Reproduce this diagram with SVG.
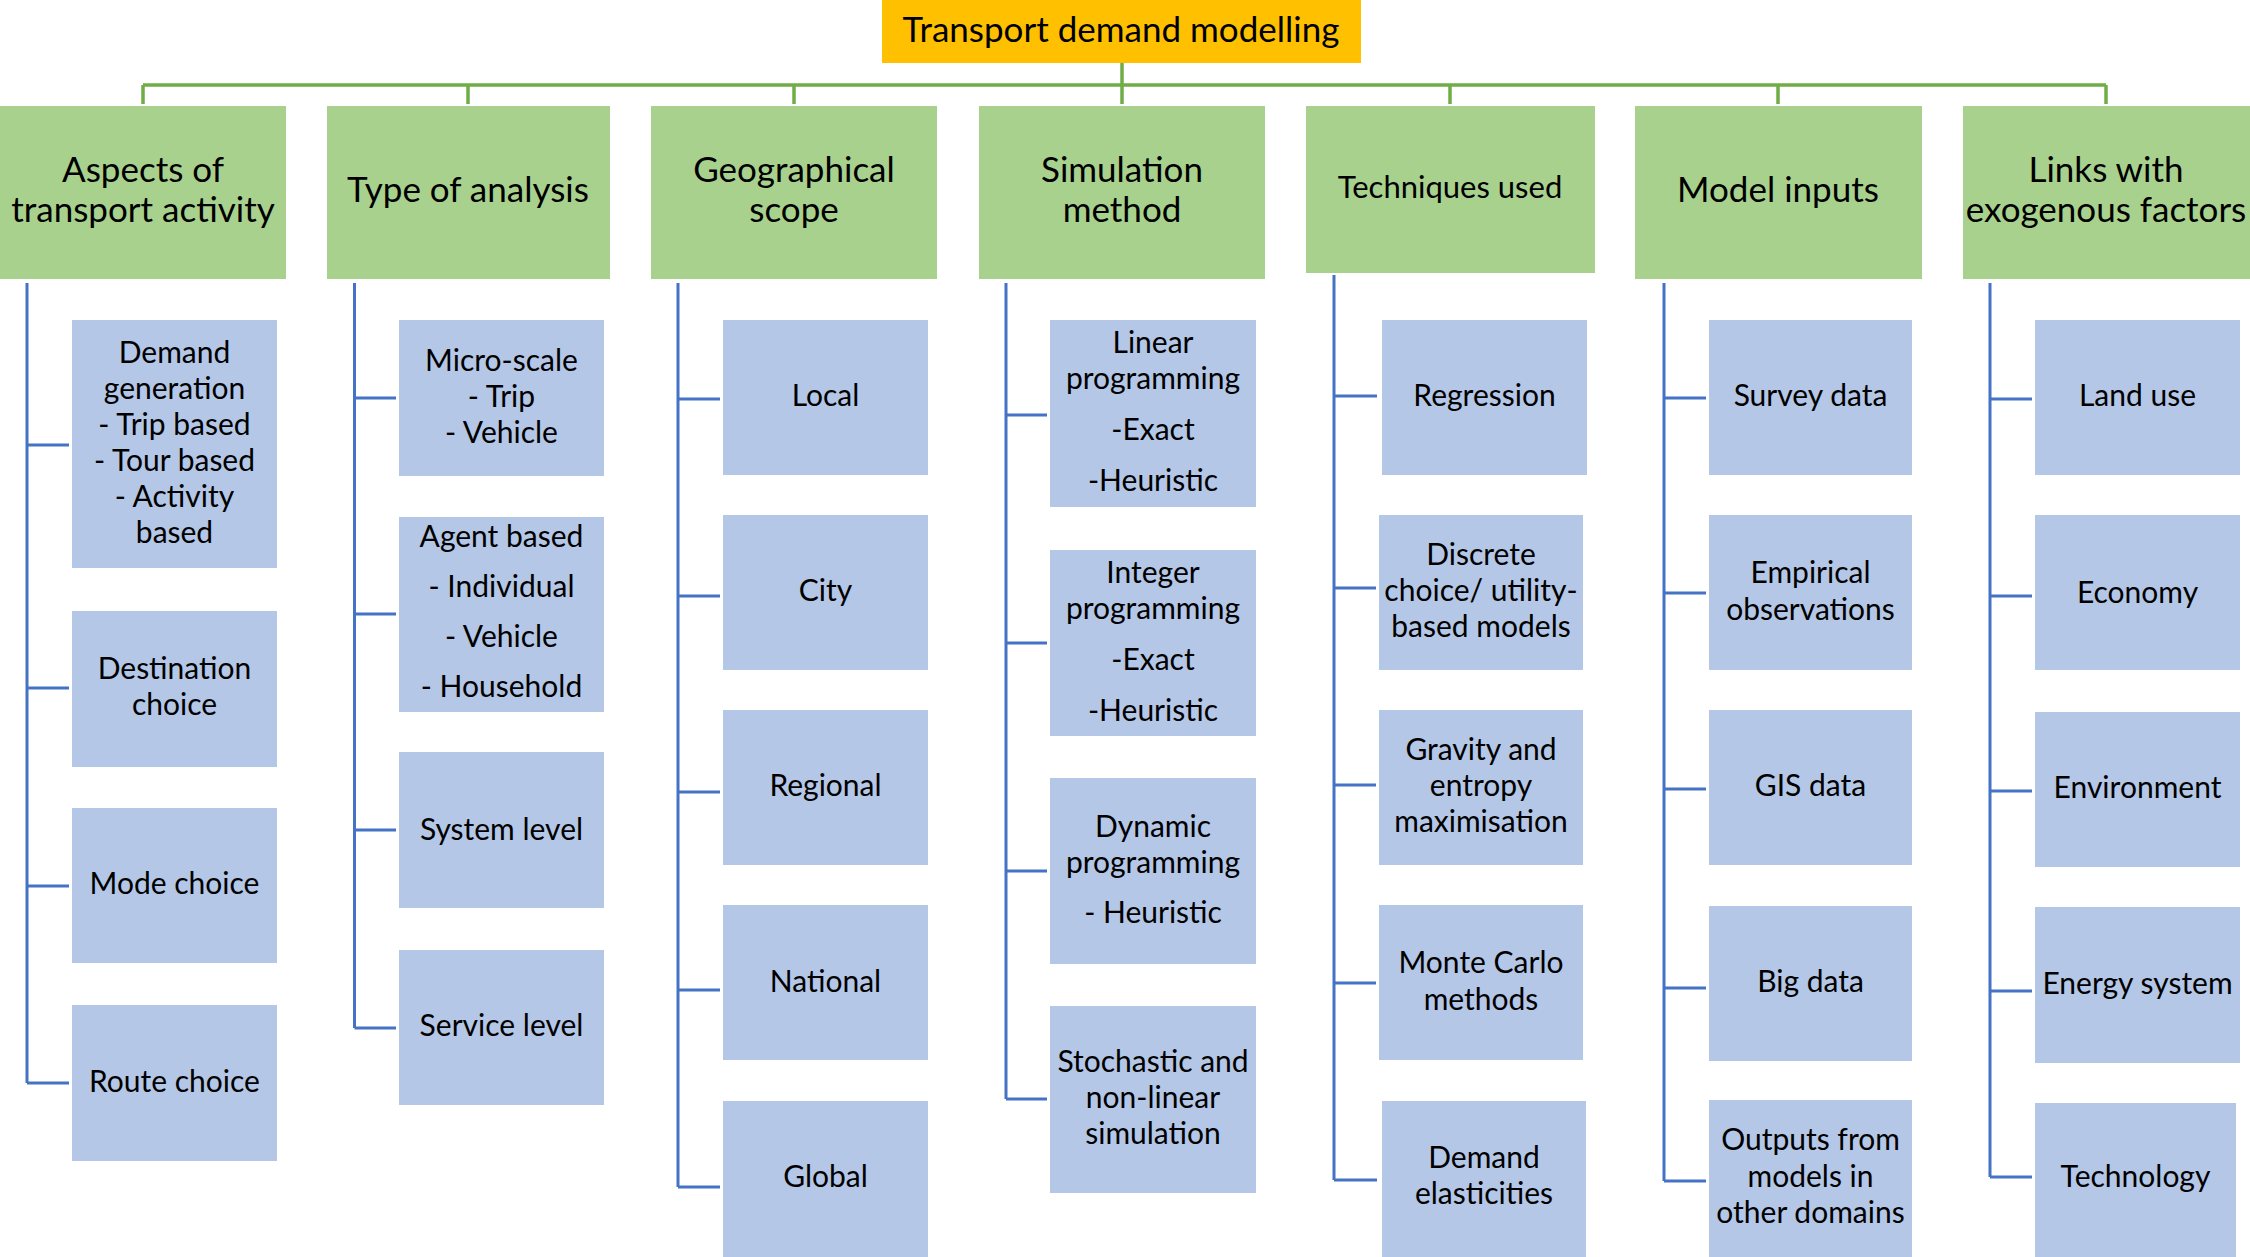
<svg xmlns="http://www.w3.org/2000/svg" width="2250" height="1257" viewBox="0 0 2250 1257">
<style>
.root{fill:#FFC000}
.hdr{fill:#A9D18E}
.leaf{fill:#B4C7E7}
text{font-family:Lato,"Open Sans","Liberation Sans",sans-serif;fill:#000;text-anchor:middle}
.th{font-size:35px}
.tr{font-size:35px}
.tl{font-size:30px}
.g{stroke:#70AD47;stroke-width:3.5;fill:none}
.b{stroke:#4472C4;stroke-width:3;fill:none}
</style>
<rect width="2250" height="1257" fill="#FFFFFF"/>
<g id="connectors">
<path class="g" d="M143 85H2106M1122 63V104M143 85V104M468 85V104M794 85V104M1450 85V104M1778 85V104M2106 85V104"/>
<path class="b" d="M27 283V1083M27 445H69M27 688H69M27 886H69M27 1083H69"/>
<path class="b" d="M354.5 283V1028M354.5 398H396M354.5 614H396M354.5 830H396M354.5 1028H396"/>
<path class="b" d="M678 283V1187M678 399H720M678 596H720M678 792H720M678 990H720M678 1187H720"/>
<path class="b" d="M1006 283V1099M1006 415H1047M1006 643H1047M1006 871H1047M1006 1099H1047"/>
<path class="b" d="M1334 275V1180M1334 396H1377M1334 588H1376M1334 785H1376M1334 983H1376M1334 1180H1377"/>
<path class="b" d="M1664 283V1181M1664 398H1706M1664 593H1706M1664 789H1706M1664 988H1706M1664 1181H1706"/>
<path class="b" d="M1990 283V1177M1990 399H2032M1990 596H2032M1990 791H2032M1990 991H2032M1990 1177H2032"/>
</g>
<g id="root"><rect class="root" x="882" y="0" width="479" height="63"/><text class="tr" x="1121" y="42">Transport demand modelling</text></g>
<g id="h1"><rect class="hdr" x="0" y="106" width="286" height="173"/><text class="th" x="143" y="182">Aspects of</text><text class="th" x="143" y="222">transport activity</text></g>
<g id="h2"><rect class="hdr" x="327" y="106" width="283" height="173"/><text class="th" x="468" y="202">Type of analysis</text></g>
<g id="h3"><rect class="hdr" x="651" y="106" width="286" height="173"/><text class="th" x="794" y="182">Geographical</text><text class="th" x="794" y="222">scope</text></g>
<g id="h4"><rect class="hdr" x="979" y="106" width="286" height="173"/><text class="th" x="1122" y="182">Simulation</text><text class="th" x="1122" y="222">method</text></g>
<g id="h5"><rect class="hdr" x="1306" y="106" width="289" height="167"/><text class="tl" x="1450" y="198" style="font-size:31px">Techniques used</text></g>
<g id="h6"><rect class="hdr" x="1635" y="106" width="287" height="173"/><text class="th" x="1778" y="202">Model inputs</text></g>
<g id="h7"><rect class="hdr" x="1963" y="106" width="287" height="173"/><text class="th" x="2106" y="182">Links with</text><text class="th" x="2106" y="222">exogenous factors</text></g>

<g id="c1a"><rect class="leaf" x="72" y="320" width="205" height="248"/><text class="tl" x="174.5" y="363">Demand</text><text class="tl" x="174.5" y="399">generation</text><text class="tl" x="174.5" y="435">- Trip based</text><text class="tl" x="174.5" y="471">- Tour based</text><text class="tl" x="174.5" y="507">- Activity</text><text class="tl" x="174.5" y="543">based</text></g>
<g id="c1b"><rect class="leaf" x="72" y="611" width="205" height="156"/><text class="tl" x="174.5" y="679">Destination</text><text class="tl" x="174.5" y="715">choice</text></g>
<g id="c1c"><rect class="leaf" x="72" y="808" width="205" height="155"/><text class="tl" x="174.5" y="894">Mode choice</text></g>
<g id="c1d"><rect class="leaf" x="72" y="1005" width="205" height="156"/><text class="tl" x="174.5" y="1092">Route choice</text></g>

<g id="c2a"><rect class="leaf" x="399" y="320" width="205" height="156"/><text class="tl" x="501.5" y="371">Micro-scale</text><text class="tl" x="501.5" y="407">- Trip</text><text class="tl" x="501.5" y="443">- Vehicle</text></g>
<g id="c2b"><rect class="leaf" x="399" y="517" width="205" height="195"/><text class="tl" x="501.5" y="547">Agent based</text><text class="tl" x="501.5" y="597">- Individual</text><text class="tl" x="501.5" y="647">- Vehicle</text><text class="tl" x="501.5" y="697">- Household</text></g>
<g id="c2c"><rect class="leaf" x="399" y="752" width="205" height="156"/><text class="tl" x="501.5" y="840">System level</text></g>
<g id="c2d"><rect class="leaf" x="399" y="950" width="205" height="155"/><text class="tl" x="501.5" y="1036">Service level</text></g>

<g id="c3a"><rect class="leaf" x="723" y="320" width="205" height="155"/><text class="tl" x="825.5" y="406">Local</text></g>
<g id="c3b"><rect class="leaf" x="723" y="515" width="205" height="155"/><text class="tl" x="825.5" y="601">City</text></g>
<g id="c3c"><rect class="leaf" x="723" y="710" width="205" height="155"/><text class="tl" x="825.5" y="796">Regional</text></g>
<g id="c3d"><rect class="leaf" x="723" y="905" width="205" height="155"/><text class="tl" x="825.5" y="992">National</text></g>
<g id="c3e"><rect class="leaf" x="723" y="1101" width="205" height="156"/><text class="tl" x="825.5" y="1187">Global</text></g>

<g id="c4a"><rect class="leaf" x="1050" y="320" width="206" height="187"/><text class="tl" x="1153" y="353">Linear</text><text class="tl" x="1153" y="389">programming</text><text class="tl" x="1153" y="440">-Exact</text><text class="tl" x="1153" y="491">-Heuristic</text></g>
<g id="c4b"><rect class="leaf" x="1050" y="550" width="206" height="186"/><text class="tl" x="1153" y="583">Integer</text><text class="tl" x="1153" y="619">programming</text><text class="tl" x="1153" y="670">-Exact</text><text class="tl" x="1153" y="721">-Heuristic</text></g>
<g id="c4c"><rect class="leaf" x="1050" y="778" width="206" height="186"/><text class="tl" x="1153" y="837">Dynamic</text><text class="tl" x="1153" y="873">programming</text><text class="tl" x="1153" y="923">- Heuristic</text></g>
<g id="c4d"><rect class="leaf" x="1050" y="1006" width="206" height="187"/><text class="tl" x="1153" y="1072">Stochastic and</text><text class="tl" x="1153" y="1108">non-linear</text><text class="tl" x="1153" y="1144">simulation</text></g>

<g id="c5a"><rect class="leaf" x="1382" y="320" width="205" height="155"/><text class="tl" x="1484.5" y="406">Regression</text></g>
<g id="c5b"><rect class="leaf" x="1379" y="515" width="204" height="155"/><text class="tl" x="1481" y="565">Discrete</text><text class="tl" x="1481" y="601">choice/ utility-</text><text class="tl" x="1481" y="637">based models</text></g>
<g id="c5c"><rect class="leaf" x="1379" y="710" width="204" height="155"/><text class="tl" x="1481" y="760">Gravity and</text><text class="tl" x="1481" y="796">entropy</text><text class="tl" x="1481" y="832">maximisation</text></g>
<g id="c5d"><rect class="leaf" x="1379" y="905" width="204" height="155"/><text class="tl" x="1481" y="973">Monte Carlo</text><text class="tl" x="1481" y="1010">methods</text></g>
<g id="c5e"><rect class="leaf" x="1382" y="1101" width="204" height="156"/><text class="tl" x="1484" y="1168">Demand</text><text class="tl" x="1484" y="1204">elasticities</text></g>

<g id="c6a"><rect class="leaf" x="1709" y="320" width="203" height="155"/><text class="tl" x="1810.5" y="406">Survey data</text></g>
<g id="c6b"><rect class="leaf" x="1709" y="515" width="203" height="155"/><text class="tl" x="1810.5" y="583">Empirical</text><text class="tl" x="1810.5" y="620">observations</text></g>
<g id="c6c"><rect class="leaf" x="1709" y="710" width="203" height="155"/><text class="tl" x="1810.5" y="796">GIS data</text></g>
<g id="c6d"><rect class="leaf" x="1709" y="906" width="203" height="155"/><text class="tl" x="1810.5" y="992">Big data</text></g>
<g id="c6e"><rect class="leaf" x="1709" y="1100" width="203" height="157"/><text class="tl" x="1810.5" y="1150">Outputs from</text><text class="tl" x="1810.5" y="1187">models in</text><text class="tl" x="1810.5" y="1223">other domains</text></g>

<g id="c7a"><rect class="leaf" x="2035" y="320" width="205" height="155"/><text class="tl" x="2137.5" y="406">Land use</text></g>
<g id="c7b"><rect class="leaf" x="2035" y="515" width="205" height="155"/><text class="tl" x="2137.5" y="603">Economy</text></g>
<g id="c7c"><rect class="leaf" x="2035" y="712" width="205" height="155"/><text class="tl" x="2137.5" y="798">Environment</text></g>
<g id="c7d"><rect class="leaf" x="2035" y="907" width="205" height="156"/><text class="tl" x="2137.5" y="994">Energy system</text></g>
<g id="c7e"><rect class="leaf" x="2035" y="1103" width="201" height="154"/><text class="tl" x="2135.5" y="1187">Technology</text></g>
</svg>
